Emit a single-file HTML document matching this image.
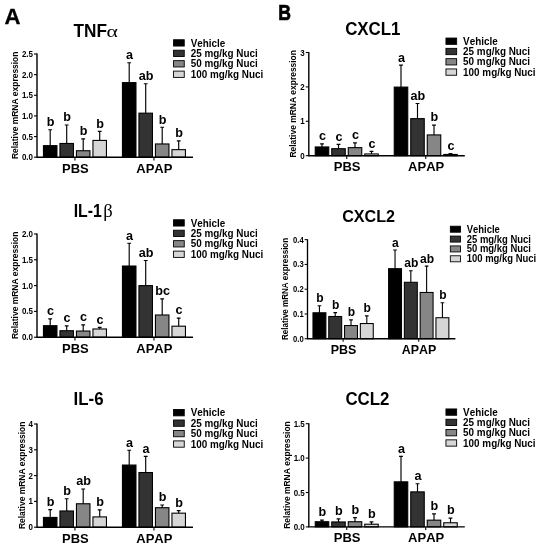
<!DOCTYPE html>
<html lang="en"><head><meta charset="utf-8"><title>Figure</title>
<style>
html,body{margin:0;padding:0;background:#fff;}
body{width:539px;height:550px;overflow:hidden;}
svg{display:block;}
svg text{font-family:"Liberation Sans", Arial, sans-serif;font-weight:bold;fill:#000;font-kerning:none;}
svg text.gk{font-family:"Liberation Serif", "DejaVu Serif", serif;font-weight:normal;}
</style></head><body>
<svg width="539" height="550" viewBox="0 0 539 550">
<rect width="539" height="550" fill="#fff"/>
<text transform="translate(4.6 24.3) scale(0.98 1)" font-size="22.6" stroke="#000" stroke-width="0.3">A</text><text transform="translate(278.3 19.7) scale(0.9 1.12)" font-size="19.6" stroke="#000" stroke-width="0.6">B</text>
<g><path d="M50.2 146.1V129.74M48.3 129.74H52.1" stroke="#000" stroke-width="1.15" fill="none"/>
<rect x="43.45" y="145.65" width="13.5" height="11.55" fill="#000000" stroke="#000" stroke-width="1.1"/>
<text x="50.6" y="126.09" font-size="12.6" text-anchor="middle">b</text>
<path d="M66.7 143.92V125.04M64.8 125.04H68.6" stroke="#000" stroke-width="1.15" fill="none"/>
<rect x="59.95" y="143.47" width="13.5" height="13.73" fill="#333333" stroke="#000" stroke-width="1.1"/>
<text x="67.1" y="121.39" font-size="12.6" text-anchor="middle">b</text>
<path d="M83.2 151.18V138.87M81.3 138.87H85.1" stroke="#000" stroke-width="1.15" fill="none"/>
<rect x="76.45" y="150.73" width="13.5" height="6.47" fill="#868686" stroke="#000" stroke-width="1.1"/>
<text x="83.6" y="135.22" font-size="12.6" text-anchor="middle">b</text>
<path d="M99.7 140.86V131.35M97.8 131.35H101.6" stroke="#000" stroke-width="1.15" fill="none"/>
<rect x="92.95" y="140.41" width="13.5" height="16.79" fill="#d6d6d6" stroke="#000" stroke-width="1.1"/>
<text x="100.1" y="127.7" font-size="12.6" text-anchor="middle">b</text>
<path d="M129.2 83.07V62.71M127.3 62.71H131.1" stroke="#000" stroke-width="1.15" fill="none"/>
<rect x="122.45" y="82.62" width="13.5" height="74.58" fill="#000000" stroke="#000" stroke-width="1.1"/>
<text x="129.6" y="59.06" font-size="12.6" text-anchor="middle">a</text>
<path d="M145.7 113.62V83.76M143.8 83.76H147.6" stroke="#000" stroke-width="1.15" fill="none"/>
<rect x="138.95" y="113.17" width="13.5" height="44.03" fill="#333333" stroke="#000" stroke-width="1.1"/>
<text x="146.1" y="80.11" font-size="12.6" text-anchor="middle">ab</text>
<path d="M162.2 144.41V127.27M160.3 127.27H164.1" stroke="#000" stroke-width="1.15" fill="none"/>
<rect x="155.45" y="143.96" width="13.5" height="13.24" fill="#868686" stroke="#000" stroke-width="1.1"/>
<text x="162.6" y="123.62" font-size="12.6" text-anchor="middle">b</text>
<path d="M178.7 150.11V140.85M176.8 140.85H180.6" stroke="#000" stroke-width="1.15" fill="none"/>
<rect x="171.95" y="149.66" width="13.5" height="7.54" fill="#d6d6d6" stroke="#000" stroke-width="1.1"/>
<text x="179.1" y="137.2" font-size="12.6" text-anchor="middle">b</text>
<path d="M37 53.5V157.2H193" stroke="#000" stroke-width="1.4" fill="none"/>
<path d="M34 157.2H37" stroke="#000" stroke-width="1.1"/>
<text transform="translate(33 160.2) scale(0.93 1)" font-size="8.6" text-anchor="end">0.0</text>
<path d="M34 136.56H37" stroke="#000" stroke-width="1.1"/>
<text transform="translate(33 139.56) scale(0.93 1)" font-size="8.6" text-anchor="end">0.5</text>
<path d="M34 115.92H37" stroke="#000" stroke-width="1.1"/>
<text transform="translate(33 118.92) scale(0.93 1)" font-size="8.6" text-anchor="end">1.0</text>
<path d="M34 95.28H37" stroke="#000" stroke-width="1.1"/>
<text transform="translate(33 98.28) scale(0.93 1)" font-size="8.6" text-anchor="end">1.5</text>
<path d="M34 74.64H37" stroke="#000" stroke-width="1.1"/>
<text transform="translate(33 77.64) scale(0.93 1)" font-size="8.6" text-anchor="end">2.0</text>
<path d="M34 54H37" stroke="#000" stroke-width="1.1"/>
<text transform="translate(33 57) scale(0.93 1)" font-size="8.6" text-anchor="end">2.5</text>
<path d="M74.95 157.2V160.4" stroke="#000" stroke-width="1.1"/>
<text x="75.35" y="172.5" font-size="13" text-anchor="middle">PBS</text>
<path d="M153.95 157.2V160.4" stroke="#000" stroke-width="1.1"/>
<text x="154.35" y="172.5" font-size="13" text-anchor="middle">APAP</text>
<text transform="translate(17.6 105.3) rotate(-90)" font-size="8.8" text-anchor="middle" textLength="107.5" lengthAdjust="spacingAndGlyphs">Relative mRNA expression</text>
<text transform="translate(73.6 36.6) scale(0.985 1)" font-size="17.5">TNF</text>
<text transform="translate(106.5 36.9) scale(1.27 1)" class="gk" font-size="17.1">α</text>
<rect x="173.55" y="39.75" width="10.7" height="6.3" fill="#000000" stroke="#000" stroke-width="0.9"/>
<text transform="translate(190.7 46.5) scale(0.943 1)" font-size="10.5">Vehicle</text>
<rect x="173.55" y="50.2" width="10.7" height="6.3" fill="#333333" stroke="#000" stroke-width="0.9"/>
<text transform="translate(190.7 56.95) scale(0.943 1)" font-size="10.5">25 mg/kg Nuci</text>
<rect x="173.55" y="60.65" width="10.7" height="6.3" fill="#868686" stroke="#000" stroke-width="0.9"/>
<text transform="translate(190.7 67.4) scale(0.943 1)" font-size="10.5">50 mg/kg Nuci</text>
<rect x="173.55" y="71.1" width="10.7" height="6.3" fill="#d6d6d6" stroke="#000" stroke-width="0.9"/>
<text transform="translate(190.7 77.85) scale(0.943 1)" font-size="10.5">100 mg/kg Nuci</text></g>
<g><path d="M50.2 326.13V318.87M48.3 318.87H52.1" stroke="#000" stroke-width="1.15" fill="none"/>
<rect x="43.45" y="325.68" width="13.5" height="11.52" fill="#000000" stroke="#000" stroke-width="1.1"/>
<text x="50.6" y="315.22" font-size="12.6" text-anchor="middle">c</text>
<path d="M66.7 331.18V325.89M64.8 325.89H68.6" stroke="#000" stroke-width="1.15" fill="none"/>
<rect x="59.95" y="330.73" width="13.5" height="6.47" fill="#333333" stroke="#000" stroke-width="1.1"/>
<text x="67.1" y="322.24" font-size="12.6" text-anchor="middle">c</text>
<path d="M83.2 331.49V324.85M81.3 324.85H85.1" stroke="#000" stroke-width="1.15" fill="none"/>
<rect x="76.45" y="331.04" width="13.5" height="6.16" fill="#868686" stroke="#000" stroke-width="1.1"/>
<text x="83.6" y="321.2" font-size="12.6" text-anchor="middle">c</text>
<path d="M99.7 329.43V327.33M97.8 327.33H101.6" stroke="#000" stroke-width="1.15" fill="none"/>
<rect x="92.95" y="328.98" width="13.5" height="8.22" fill="#d6d6d6" stroke="#000" stroke-width="1.1"/>
<text x="100.1" y="323.68" font-size="12.6" text-anchor="middle">c</text>
<path d="M129.2 266.48V243.22M127.3 243.22H131.1" stroke="#000" stroke-width="1.15" fill="none"/>
<rect x="122.45" y="266.03" width="13.5" height="71.17" fill="#000000" stroke="#000" stroke-width="1.1"/>
<text x="129.6" y="239.57" font-size="12.6" text-anchor="middle">a</text>
<path d="M145.7 286.08V260.51M143.8 260.51H147.6" stroke="#000" stroke-width="1.15" fill="none"/>
<rect x="138.95" y="285.63" width="13.5" height="51.57" fill="#333333" stroke="#000" stroke-width="1.1"/>
<text x="146.1" y="256.86" font-size="12.6" text-anchor="middle">ab</text>
<path d="M162.2 315.44V298.85M160.3 298.85H164.1" stroke="#000" stroke-width="1.15" fill="none"/>
<rect x="155.45" y="314.99" width="13.5" height="22.21" fill="#868686" stroke="#000" stroke-width="1.1"/>
<text x="162.6" y="295.2" font-size="12.6" text-anchor="middle">bc</text>
<path d="M178.7 326.64V318.09M176.8 318.09H180.6" stroke="#000" stroke-width="1.15" fill="none"/>
<rect x="171.95" y="326.19" width="13.5" height="11.01" fill="#d6d6d6" stroke="#000" stroke-width="1.1"/>
<text x="179.1" y="314.44" font-size="12.6" text-anchor="middle">c</text>
<path d="M37 233.5V337.2H193" stroke="#000" stroke-width="1.4" fill="none"/>
<path d="M34 337.2H37" stroke="#000" stroke-width="1.1"/>
<text transform="translate(33 340.2) scale(0.93 1)" font-size="8.6" text-anchor="end">0.0</text>
<path d="M34 311.4H37" stroke="#000" stroke-width="1.1"/>
<text transform="translate(33 314.4) scale(0.93 1)" font-size="8.6" text-anchor="end">0.5</text>
<path d="M34 285.6H37" stroke="#000" stroke-width="1.1"/>
<text transform="translate(33 288.6) scale(0.93 1)" font-size="8.6" text-anchor="end">1.0</text>
<path d="M34 259.8H37" stroke="#000" stroke-width="1.1"/>
<text transform="translate(33 262.8) scale(0.93 1)" font-size="8.6" text-anchor="end">1.5</text>
<path d="M34 234H37" stroke="#000" stroke-width="1.1"/>
<text transform="translate(33 237) scale(0.93 1)" font-size="8.6" text-anchor="end">2.0</text>
<path d="M74.95 337.2V340.4" stroke="#000" stroke-width="1.1"/>
<text x="75.35" y="352.5" font-size="13" text-anchor="middle">PBS</text>
<path d="M153.95 337.2V340.4" stroke="#000" stroke-width="1.1"/>
<text x="154.35" y="352.5" font-size="13" text-anchor="middle">APAP</text>
<text transform="translate(17.6 285.3) rotate(-90)" font-size="8.8" text-anchor="middle" textLength="107.5" lengthAdjust="spacingAndGlyphs">Relative mRNA expression</text>
<text transform="translate(73.7 217) scale(0.905 1)" font-size="17.5">IL-1</text>
<text transform="translate(103.3 217) scale(1.04 1)" class="gk" font-size="17.9">β</text>
<rect x="173.55" y="219.75" width="10.7" height="6.3" fill="#000000" stroke="#000" stroke-width="0.9"/>
<text transform="translate(190.7 226.5) scale(0.943 1)" font-size="10.5">Vehicle</text>
<rect x="173.55" y="230.2" width="10.7" height="6.3" fill="#333333" stroke="#000" stroke-width="0.9"/>
<text transform="translate(190.7 236.95) scale(0.943 1)" font-size="10.5">25 mg/kg Nuci</text>
<rect x="173.55" y="240.65" width="10.7" height="6.3" fill="#868686" stroke="#000" stroke-width="0.9"/>
<text transform="translate(190.7 247.4) scale(0.943 1)" font-size="10.5">50 mg/kg Nuci</text>
<rect x="173.55" y="251.1" width="10.7" height="6.3" fill="#d6d6d6" stroke="#000" stroke-width="0.9"/>
<text transform="translate(190.7 257.85) scale(0.943 1)" font-size="10.5">100 mg/kg Nuci</text></g>
<g><path d="M50.2 517.88V509.59M48.3 509.59H52.1" stroke="#000" stroke-width="1.15" fill="none"/>
<rect x="43.45" y="517.43" width="13.5" height="9.77" fill="#000000" stroke="#000" stroke-width="1.1"/>
<text x="50.6" y="505.94" font-size="12.6" text-anchor="middle">b</text>
<path d="M66.7 511.43V498.75M64.8 498.75H68.6" stroke="#000" stroke-width="1.15" fill="none"/>
<rect x="59.95" y="510.98" width="13.5" height="16.22" fill="#333333" stroke="#000" stroke-width="1.1"/>
<text x="67.1" y="495.1" font-size="12.6" text-anchor="middle">b</text>
<path d="M83.2 504.21V488.95M81.3 488.95H85.1" stroke="#000" stroke-width="1.15" fill="none"/>
<rect x="76.45" y="503.76" width="13.5" height="23.44" fill="#868686" stroke="#000" stroke-width="1.1"/>
<text x="83.6" y="485.3" font-size="12.6" text-anchor="middle">ab</text>
<path d="M99.7 517.36V509.85M97.8 509.85H101.6" stroke="#000" stroke-width="1.15" fill="none"/>
<rect x="92.95" y="516.91" width="13.5" height="10.29" fill="#d6d6d6" stroke="#000" stroke-width="1.1"/>
<text x="100.1" y="506.2" font-size="12.6" text-anchor="middle">b</text>
<path d="M129.2 465.51V450.25M127.3 450.25H131.1" stroke="#000" stroke-width="1.15" fill="none"/>
<rect x="122.45" y="465.06" width="13.5" height="62.14" fill="#000000" stroke="#000" stroke-width="1.1"/>
<text x="129.6" y="446.6" font-size="12.6" text-anchor="middle">a</text>
<path d="M145.7 472.99V456.44M143.8 456.44H147.6" stroke="#000" stroke-width="1.15" fill="none"/>
<rect x="138.95" y="472.54" width="13.5" height="54.66" fill="#333333" stroke="#000" stroke-width="1.1"/>
<text x="146.1" y="452.79" font-size="12.6" text-anchor="middle">a</text>
<path d="M162.2 508.15V504.95M160.3 504.95H164.1" stroke="#000" stroke-width="1.15" fill="none"/>
<rect x="155.45" y="507.7" width="13.5" height="19.5" fill="#868686" stroke="#000" stroke-width="1.1"/>
<text x="162.6" y="501.3" font-size="12.6" text-anchor="middle">b</text>
<path d="M178.7 513.62V510.62M176.8 510.62H180.6" stroke="#000" stroke-width="1.15" fill="none"/>
<rect x="171.95" y="513.17" width="13.5" height="14.03" fill="#d6d6d6" stroke="#000" stroke-width="1.1"/>
<text x="179.1" y="506.97" font-size="12.6" text-anchor="middle">b</text>
<path d="M37 423.5V527.2H193" stroke="#000" stroke-width="1.4" fill="none"/>
<path d="M34 527.2H37" stroke="#000" stroke-width="1.1"/>
<text transform="translate(33 530.2) scale(0.93 1)" font-size="8.6" text-anchor="end">0</text>
<path d="M34 501.4H37" stroke="#000" stroke-width="1.1"/>
<text transform="translate(33 504.4) scale(0.93 1)" font-size="8.6" text-anchor="end">1</text>
<path d="M34 475.6H37" stroke="#000" stroke-width="1.1"/>
<text transform="translate(33 478.6) scale(0.93 1)" font-size="8.6" text-anchor="end">2</text>
<path d="M34 449.8H37" stroke="#000" stroke-width="1.1"/>
<text transform="translate(33 452.8) scale(0.93 1)" font-size="8.6" text-anchor="end">3</text>
<path d="M34 424H37" stroke="#000" stroke-width="1.1"/>
<text transform="translate(33 427) scale(0.93 1)" font-size="8.6" text-anchor="end">4</text>
<path d="M74.95 527.2V530.4" stroke="#000" stroke-width="1.1"/>
<text x="75.35" y="542.5" font-size="13" text-anchor="middle">PBS</text>
<path d="M153.95 527.2V530.4" stroke="#000" stroke-width="1.1"/>
<text x="154.35" y="542.5" font-size="13" text-anchor="middle">APAP</text>
<text transform="translate(25 475.3) rotate(-90)" font-size="8.8" text-anchor="middle" textLength="107.5" lengthAdjust="spacingAndGlyphs">Relative mRNA expression</text>
<text transform="translate(73.6 405.3) scale(0.963 1)" font-size="17.5">IL-6</text>
<rect x="173.55" y="409.55" width="10.7" height="6.3" fill="#000000" stroke="#000" stroke-width="0.9"/>
<text transform="translate(190.7 416.3) scale(0.943 1)" font-size="10.5">Vehicle</text>
<rect x="173.55" y="420" width="10.7" height="6.3" fill="#333333" stroke="#000" stroke-width="0.9"/>
<text transform="translate(190.7 426.75) scale(0.943 1)" font-size="10.5">25 mg/kg Nuci</text>
<rect x="173.55" y="430.45" width="10.7" height="6.3" fill="#868686" stroke="#000" stroke-width="0.9"/>
<text transform="translate(190.7 437.2) scale(0.943 1)" font-size="10.5">50 mg/kg Nuci</text>
<rect x="173.55" y="440.9" width="10.7" height="6.3" fill="#d6d6d6" stroke="#000" stroke-width="0.9"/>
<text transform="translate(190.7 447.65) scale(0.943 1)" font-size="10.5">100 mg/kg Nuci</text></g>
<g><path d="M322 147.41V143.83M320.1 143.83H323.9" stroke="#000" stroke-width="1.15" fill="none"/>
<rect x="315.25" y="146.96" width="13.5" height="8.74" fill="#000000" stroke="#000" stroke-width="1.1"/>
<text x="322.4" y="140.18" font-size="12.6" text-anchor="middle">c</text>
<path d="M338.5 149.13V144.35M336.6 144.35H340.4" stroke="#000" stroke-width="1.15" fill="none"/>
<rect x="331.75" y="148.68" width="13.5" height="7.02" fill="#333333" stroke="#000" stroke-width="1.1"/>
<text x="338.9" y="140.7" font-size="12.6" text-anchor="middle">c</text>
<path d="M355 148.1V142.84M353.1 142.84H356.9" stroke="#000" stroke-width="1.15" fill="none"/>
<rect x="348.25" y="147.65" width="13.5" height="8.05" fill="#868686" stroke="#000" stroke-width="1.1"/>
<text x="355.4" y="139.19" font-size="12.6" text-anchor="middle">c</text>
<path d="M371.5 154.4V151.33M369.6 151.33H373.4" stroke="#000" stroke-width="1.15" fill="none"/>
<rect x="364.75" y="153.95" width="13.5" height="1.75" fill="#d6d6d6" stroke="#000" stroke-width="1.1"/>
<text x="371.9" y="147.68" font-size="12.6" text-anchor="middle">c</text>
<path d="M401 87.56V65.16M399.1 65.16H402.9" stroke="#000" stroke-width="1.15" fill="none"/>
<rect x="394.25" y="87.11" width="13.5" height="68.59" fill="#000000" stroke="#000" stroke-width="1.1"/>
<text x="401.4" y="61.51" font-size="12.6" text-anchor="middle">a</text>
<path d="M417.5 119.1V103.52M415.6 103.52H419.4" stroke="#000" stroke-width="1.15" fill="none"/>
<rect x="410.75" y="118.65" width="13.5" height="37.05" fill="#333333" stroke="#000" stroke-width="1.1"/>
<text x="417.9" y="99.87" font-size="12.6" text-anchor="middle">ab</text>
<path d="M434 135.37V125.05M432.1 125.05H435.9" stroke="#000" stroke-width="1.15" fill="none"/>
<rect x="427.25" y="134.92" width="13.5" height="20.78" fill="#868686" stroke="#000" stroke-width="1.1"/>
<text x="434.4" y="121.4" font-size="12.6" text-anchor="middle">b</text>
<path d="M450.5 154.91V153.64M448.6 153.64H452.4" stroke="#000" stroke-width="1.15" fill="none"/>
<rect x="443.75" y="154.46" width="13.5" height="1.24" fill="#d6d6d6" stroke="#000" stroke-width="1.1"/>
<text x="450.9" y="149.99" font-size="12.6" text-anchor="middle">c</text>
<path d="M308.8 52V155.7H464.8" stroke="#000" stroke-width="1.4" fill="none"/>
<path d="M305.8 155.7H308.8" stroke="#000" stroke-width="1.1"/>
<text transform="translate(304.8 158.7) scale(0.93 1)" font-size="8.6" text-anchor="end">0</text>
<path d="M305.8 121.3H308.8" stroke="#000" stroke-width="1.1"/>
<text transform="translate(304.8 124.3) scale(0.93 1)" font-size="8.6" text-anchor="end">1</text>
<path d="M305.8 86.9H308.8" stroke="#000" stroke-width="1.1"/>
<text transform="translate(304.8 89.9) scale(0.93 1)" font-size="8.6" text-anchor="end">2</text>
<path d="M305.8 52.5H308.8" stroke="#000" stroke-width="1.1"/>
<text transform="translate(304.8 55.5) scale(0.93 1)" font-size="8.6" text-anchor="end">3</text>
<path d="M346.75 155.7V158.9" stroke="#000" stroke-width="1.1"/>
<text x="347.15" y="171" font-size="13" text-anchor="middle">PBS</text>
<path d="M425.75 155.7V158.9" stroke="#000" stroke-width="1.1"/>
<text x="426.15" y="171" font-size="13" text-anchor="middle">APAP</text>
<text transform="translate(296.1 103.8) rotate(-90)" font-size="8.8" text-anchor="middle" textLength="107.5" lengthAdjust="spacingAndGlyphs">Relative mRNA expression</text>
<text transform="translate(345.2 34.5) scale(0.963 1)" font-size="17.5">CXCL1</text>
<rect x="445.95" y="38.05" width="10.7" height="6.3" fill="#000000" stroke="#000" stroke-width="0.9"/>
<text transform="translate(463.1 44.8) scale(0.943 1)" font-size="10.5">Vehicle</text>
<rect x="445.95" y="48.35" width="10.7" height="6.3" fill="#333333" stroke="#000" stroke-width="0.9"/>
<text transform="translate(463.1 55.1) scale(0.943 1)" font-size="10.5">25 mg/kg Nuci</text>
<rect x="445.95" y="58.65" width="10.7" height="6.3" fill="#868686" stroke="#000" stroke-width="0.9"/>
<text transform="translate(463.1 65.4) scale(0.943 1)" font-size="10.5">50 mg/kg Nuci</text>
<rect x="445.95" y="68.95" width="10.7" height="6.3" fill="#d6d6d6" stroke="#000" stroke-width="0.9"/>
<text transform="translate(463.1 75.7) scale(0.943 1)" font-size="10.5">100 mg/kg Nuci</text></g>
<g><path d="M319.43 313.24V305.73M317.61 305.73H321.25" stroke="#000" stroke-width="1.1" fill="none"/>
<rect x="312.97" y="312.77" width="12.92" height="25.98" fill="#000000" stroke="#000" stroke-width="1.05"/>
<text x="319.83" y="302.24" font-size="12.06" text-anchor="middle">b</text>
<path d="M335.22 316.96V312.67M333.4 312.67H337.04" stroke="#000" stroke-width="1.1" fill="none"/>
<rect x="328.76" y="316.48" width="12.92" height="22.27" fill="#333333" stroke="#000" stroke-width="1.05"/>
<text x="335.62" y="309.18" font-size="12.06" text-anchor="middle">b</text>
<path d="M351.01 326V319.86M349.2 319.86H352.83" stroke="#000" stroke-width="1.1" fill="none"/>
<rect x="344.55" y="325.53" width="12.92" height="13.22" fill="#868686" stroke="#000" stroke-width="1.05"/>
<text x="351.41" y="316.36" font-size="12.06" text-anchor="middle">b</text>
<path d="M366.8 324.02V315.89M364.99 315.89H368.62" stroke="#000" stroke-width="1.1" fill="none"/>
<rect x="360.34" y="323.54" width="12.92" height="15.21" fill="#d6d6d6" stroke="#000" stroke-width="1.05"/>
<text x="367.2" y="312.4" font-size="12.06" text-anchor="middle">b</text>
<path d="M395.04 269.14V249.99M393.22 249.99H396.85" stroke="#000" stroke-width="1.1" fill="none"/>
<rect x="388.58" y="268.67" width="12.92" height="70.08" fill="#000000" stroke="#000" stroke-width="1.05"/>
<text x="395.44" y="246.5" font-size="12.06" text-anchor="middle">a</text>
<path d="M410.83 282.77V270.8M409.01 270.8H412.64" stroke="#000" stroke-width="1.1" fill="none"/>
<rect x="404.37" y="282.29" width="12.92" height="56.46" fill="#333333" stroke="#000" stroke-width="1.05"/>
<text x="411.23" y="267.31" font-size="12.06" text-anchor="middle">ab</text>
<path d="M426.62 292.93V266.09M424.8 266.09H428.43" stroke="#000" stroke-width="1.1" fill="none"/>
<rect x="420.16" y="292.45" width="12.92" height="46.3" fill="#868686" stroke="#000" stroke-width="1.05"/>
<text x="427.02" y="262.6" font-size="12.06" text-anchor="middle">ab</text>
<path d="M442.41 318.2V302.76M440.59 302.76H444.23" stroke="#000" stroke-width="1.1" fill="none"/>
<rect x="435.95" y="317.72" width="12.92" height="21.03" fill="#d6d6d6" stroke="#000" stroke-width="1.05"/>
<text x="442.81" y="299.27" font-size="12.06" text-anchor="middle">b</text>
<path d="M307.5 239.15V338.75H455.4" stroke="#000" stroke-width="1.34" fill="none"/>
<path d="M304.63 338.75H307.5" stroke="#000" stroke-width="1.05"/>
<text transform="translate(303.67 341.62) scale(0.93 1)" font-size="8.23" text-anchor="end">0.0</text>
<path d="M304.63 313.98H307.5" stroke="#000" stroke-width="1.05"/>
<text transform="translate(303.67 316.85) scale(0.93 1)" font-size="8.23" text-anchor="end">0.1</text>
<path d="M304.63 289.2H307.5" stroke="#000" stroke-width="1.05"/>
<text transform="translate(303.67 292.07) scale(0.93 1)" font-size="8.23" text-anchor="end">0.2</text>
<path d="M304.63 264.43H307.5" stroke="#000" stroke-width="1.05"/>
<text transform="translate(303.67 267.3) scale(0.93 1)" font-size="8.23" text-anchor="end">0.3</text>
<path d="M304.63 239.65H307.5" stroke="#000" stroke-width="1.05"/>
<text transform="translate(303.67 242.52) scale(0.93 1)" font-size="8.23" text-anchor="end">0.4</text>
<path d="M343.12 338.75V341.81" stroke="#000" stroke-width="1.05"/>
<text x="343.52" y="354.19" font-size="12.44" text-anchor="middle">PBS</text>
<path d="M418.72 338.75V341.81" stroke="#000" stroke-width="1.05"/>
<text x="419.12" y="354.19" font-size="12.44" text-anchor="middle">APAP</text>
<text transform="translate(288.2 288.9) rotate(-90)" font-size="8.36" text-anchor="middle" textLength="102.12" lengthAdjust="spacingAndGlyphs">Relative mRNA expression</text>
<text transform="translate(342.2 222.2) scale(0.963 1)" font-size="16.75">CXCL2</text>
<rect x="450.33" y="226.2" width="10.24" height="6.03" fill="#000000" stroke="#000" stroke-width="0.86"/>
<text transform="translate(466.74 232.66) scale(0.943 1)" font-size="10.05">Vehicle</text>
<rect x="450.33" y="236.06" width="10.24" height="6.03" fill="#333333" stroke="#000" stroke-width="0.86"/>
<text transform="translate(466.74 242.52) scale(0.943 1)" font-size="10.05">25 mg/kg Nuci</text>
<rect x="450.33" y="245.91" width="10.24" height="6.03" fill="#868686" stroke="#000" stroke-width="0.86"/>
<text transform="translate(466.74 252.37) scale(0.943 1)" font-size="10.05">50 mg/kg Nuci</text>
<rect x="450.33" y="255.77" width="10.24" height="6.03" fill="#d6d6d6" stroke="#000" stroke-width="0.86"/>
<text transform="translate(466.74 262.23) scale(0.943 1)" font-size="10.05">100 mg/kg Nuci</text></g>
<g><path d="M322 522.19V520.06M320.1 520.06H323.9" stroke="#000" stroke-width="1.15" fill="none"/>
<rect x="315.25" y="521.74" width="13.5" height="5.16" fill="#000000" stroke="#000" stroke-width="1.1"/>
<text x="322.4" y="516.41" font-size="12.6" text-anchor="middle">b</text>
<path d="M338.5 522.4V518.82M336.6 518.82H340.4" stroke="#000" stroke-width="1.15" fill="none"/>
<rect x="331.75" y="521.95" width="13.5" height="4.95" fill="#333333" stroke="#000" stroke-width="1.1"/>
<text x="338.9" y="515.17" font-size="12.6" text-anchor="middle">b</text>
<path d="M355 522.19V517.58M353.1 517.58H356.9" stroke="#000" stroke-width="1.15" fill="none"/>
<rect x="348.25" y="521.74" width="13.5" height="5.16" fill="#868686" stroke="#000" stroke-width="1.1"/>
<text x="355.4" y="513.93" font-size="12.6" text-anchor="middle">b</text>
<path d="M371.5 524.67V521.85M369.6 521.85H373.4" stroke="#000" stroke-width="1.15" fill="none"/>
<rect x="364.75" y="524.22" width="13.5" height="2.68" fill="#d6d6d6" stroke="#000" stroke-width="1.1"/>
<text x="371.9" y="518.2" font-size="12.6" text-anchor="middle">b</text>
<path d="M401 482.29V456.35M399.1 456.35H402.9" stroke="#000" stroke-width="1.15" fill="none"/>
<rect x="394.25" y="481.84" width="13.5" height="45.06" fill="#000000" stroke="#000" stroke-width="1.1"/>
<text x="401.4" y="452.7" font-size="12.6" text-anchor="middle">a</text>
<path d="M417.5 492.33V483.73M415.6 483.73H419.4" stroke="#000" stroke-width="1.15" fill="none"/>
<rect x="410.75" y="491.88" width="13.5" height="35.02" fill="#333333" stroke="#000" stroke-width="1.1"/>
<text x="417.9" y="480.08" font-size="12.6" text-anchor="middle">a</text>
<path d="M434 520.61V513.87M432.1 513.87H435.9" stroke="#000" stroke-width="1.15" fill="none"/>
<rect x="427.25" y="520.16" width="13.5" height="6.74" fill="#868686" stroke="#000" stroke-width="1.1"/>
<text x="434.4" y="510.22" font-size="12.6" text-anchor="middle">b</text>
<path d="M450.5 523.22V518.06M448.6 518.06H452.4" stroke="#000" stroke-width="1.15" fill="none"/>
<rect x="443.75" y="522.77" width="13.5" height="4.13" fill="#d6d6d6" stroke="#000" stroke-width="1.1"/>
<text x="450.9" y="514.41" font-size="12.6" text-anchor="middle">b</text>
<path d="M308.8 423.2V526.9H464.8" stroke="#000" stroke-width="1.4" fill="none"/>
<path d="M305.8 526.9H308.8" stroke="#000" stroke-width="1.1"/>
<text transform="translate(304.8 529.9) scale(0.93 1)" font-size="8.6" text-anchor="end">0.0</text>
<path d="M305.8 492.5H308.8" stroke="#000" stroke-width="1.1"/>
<text transform="translate(304.8 495.5) scale(0.93 1)" font-size="8.6" text-anchor="end">0.5</text>
<path d="M305.8 458.1H308.8" stroke="#000" stroke-width="1.1"/>
<text transform="translate(304.8 461.1) scale(0.93 1)" font-size="8.6" text-anchor="end">1.0</text>
<path d="M305.8 423.7H308.8" stroke="#000" stroke-width="1.1"/>
<text transform="translate(304.8 426.7) scale(0.93 1)" font-size="8.6" text-anchor="end">1.5</text>
<path d="M346.75 526.9V530.1" stroke="#000" stroke-width="1.1"/>
<text x="347.15" y="542.2" font-size="13" text-anchor="middle">PBS</text>
<path d="M425.75 526.9V530.1" stroke="#000" stroke-width="1.1"/>
<text x="426.15" y="542.2" font-size="13" text-anchor="middle">APAP</text>
<text transform="translate(289.6 475) rotate(-90)" font-size="8.8" text-anchor="middle" textLength="107.5" lengthAdjust="spacingAndGlyphs">Relative mRNA expression</text>
<text transform="translate(345.4 405.4) scale(0.963 1)" font-size="17.5">CCL2</text>
<rect x="445.95" y="408.95" width="10.7" height="6.3" fill="#000000" stroke="#000" stroke-width="0.9"/>
<text transform="translate(463.1 415.7) scale(0.943 1)" font-size="10.5">Vehicle</text>
<rect x="445.95" y="419.25" width="10.7" height="6.3" fill="#333333" stroke="#000" stroke-width="0.9"/>
<text transform="translate(463.1 426) scale(0.943 1)" font-size="10.5">25 mg/kg Nuci</text>
<rect x="445.95" y="429.55" width="10.7" height="6.3" fill="#868686" stroke="#000" stroke-width="0.9"/>
<text transform="translate(463.1 436.3) scale(0.943 1)" font-size="10.5">50 mg/kg Nuci</text>
<rect x="445.95" y="439.85" width="10.7" height="6.3" fill="#d6d6d6" stroke="#000" stroke-width="0.9"/>
<text transform="translate(463.1 446.6) scale(0.943 1)" font-size="10.5">100 mg/kg Nuci</text></g>
</svg>
</body></html>
